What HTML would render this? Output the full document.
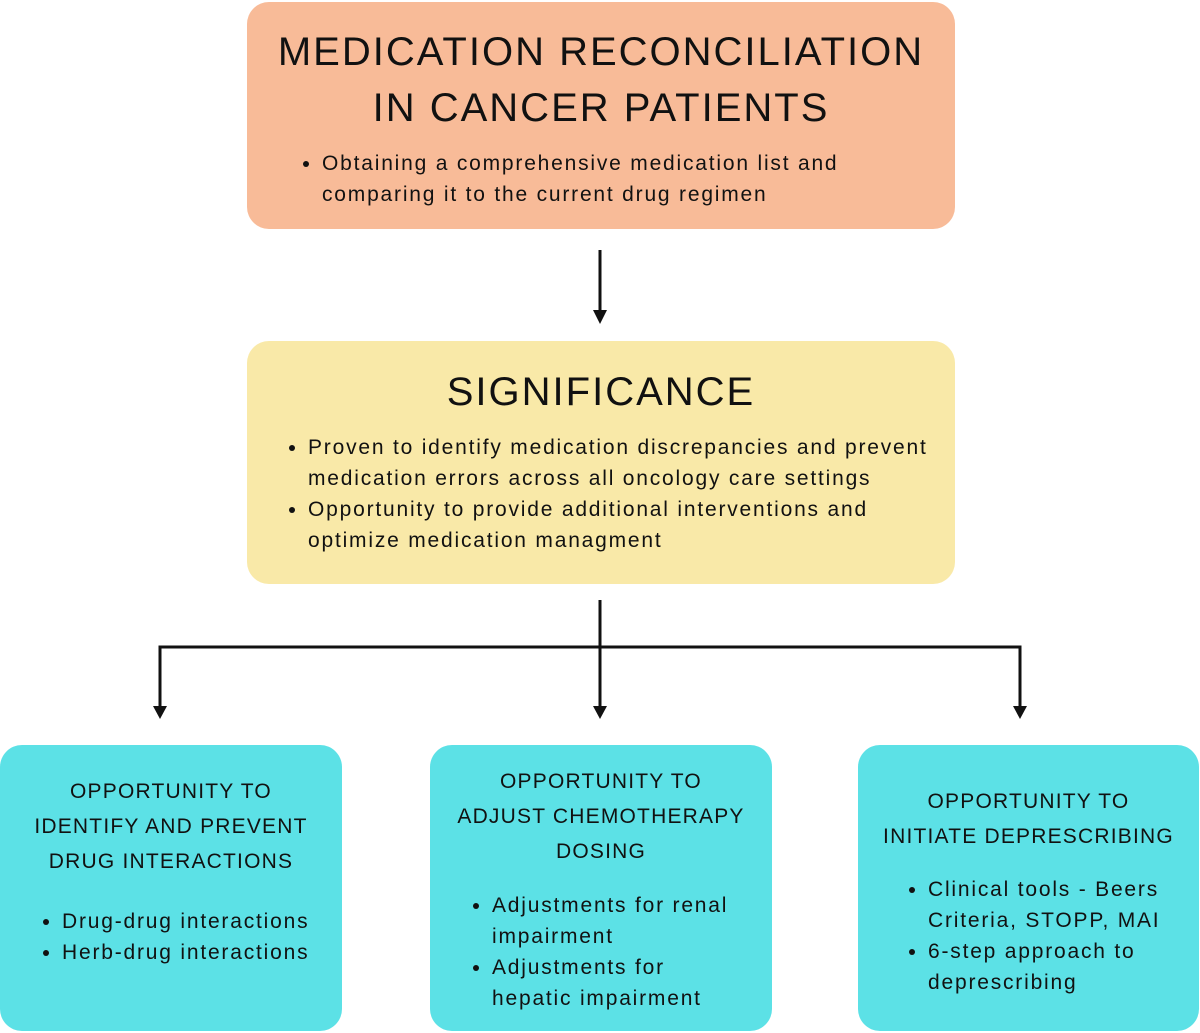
<!DOCTYPE html>
<html><head><style>
body{margin:0;width:1200px;height:1033px;background:#fff;position:relative;font-family:"Liberation Sans",sans-serif;color:#111;overflow:hidden}
.b{position:absolute;border-radius:22px;box-sizing:border-box}
.t{position:absolute;white-space:nowrap}
.bl{letter-spacing:1.8px}
.h{letter-spacing:2px}
.st{letter-spacing:1.2px}
ul{margin:0;padding-left:22px}
li{margin:0}
</style></head><body>
<div class="b" style="left:247px;top:2px;width:708px;height:227px;background:#f8bb98"></div>
<div class="t h" style="left:247px;width:708px;top:24px;text-align:center;font-size:40px;line-height:56px">MEDICATION RECONCILIATION<br>IN CANCER PATIENTS</div>
<div class="t bl" style="left:300px;top:148px;font-size:21px;line-height:31px"><ul><li>Obtaining a comprehensive medication list and<br>comparing it to the current drug regimen</li></ul></div>

<div class="b" style="left:247px;top:341px;width:708px;height:243px;background:#f9e9a8"></div>
<div class="t h" style="left:247px;width:708px;top:364px;text-align:center;font-size:40px;line-height:56px">SIGNIFICANCE</div>
<div class="t bl" style="left:286px;top:432px;font-size:21px;line-height:31px"><ul><li>Proven to identify medication discrepancies and prevent<br>medication errors across all oncology care settings</li><li>Opportunity to provide additional interventions and<br>optimize medication managment</li></ul></div>

<div class="b" style="left:0;top:745px;width:342px;height:286px;background:#5ce1e6"></div>
<div class="t st" style="left:0;width:342px;top:774px;text-align:center;font-size:21px;line-height:35px">OPPORTUNITY TO<br>IDENTIFY AND PREVENT<br>DRUG INTERACTIONS</div>
<div class="t bl" style="left:40px;top:906px;font-size:21px;line-height:31px"><ul><li>Drug-drug interactions</li><li>Herb-drug interactions</li></ul></div>

<div class="b" style="left:430px;top:745px;width:342px;height:286px;background:#5ce1e6"></div>
<div class="t st" style="left:430px;width:342px;top:764px;text-align:center;font-size:21px;line-height:35px">OPPORTUNITY TO<br>ADJUST CHEMOTHERAPY<br>DOSING</div>
<div class="t bl" style="left:470px;top:890px;font-size:21px;line-height:31px"><ul><li>Adjustments for renal<br>impairment</li><li>Adjustments for<br>hepatic impairment</li></ul></div>

<div class="b" style="left:858px;top:745px;width:341px;height:286px;background:#5ce1e6"></div>
<div class="t st" style="left:858px;width:341px;top:784px;text-align:center;font-size:21px;line-height:35px">OPPORTUNITY TO<br>INITIATE DEPRESCRIBING</div>
<div class="t bl" style="left:906px;top:874px;font-size:21px;line-height:31px"><ul><li>Clinical tools - Beers<br>Criteria, STOPP, MAI</li><li>6-step approach to<br>deprescribing</li></ul></div>

<svg width="1200" height="1033" style="position:absolute;left:0;top:0">
<g stroke="#111" stroke-width="3" fill="none">
<line x1="600" y1="250" x2="600" y2="312"/>
<line x1="600" y1="600" x2="600" y2="708"/>
<polyline points="160,708 160,647 1020,647 1020,708"/>
</g>
<g fill="#111">
<polygon points="593,310 607,310 600,324"/>
<polygon points="153,706 167,706 160,719"/>
<polygon points="593,706 607,706 600,719"/>
<polygon points="1013,706 1027,706 1020,719"/>
</g>
</svg>
</body></html>
